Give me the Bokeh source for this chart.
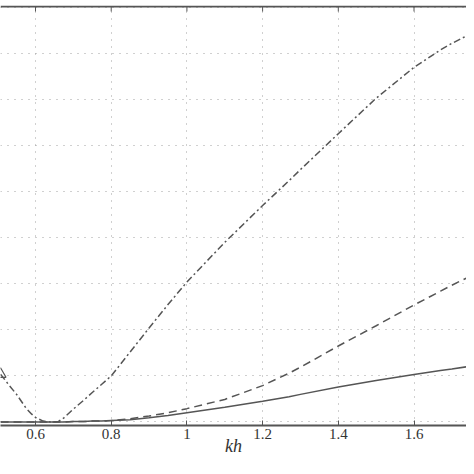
from bokeh.plotting import figure
from bokeh.models import LinearAxis, FixedTicker, Range1d, Span
from bokeh.embed import file_html
from bokeh.resources import INLINE

# data
kh = [0.5075, 0.53, 0.55, 0.575, 0.59, 0.6, 0.62, 0.64, 0.66, 0.675, 0.7, 0.727, 0.75, 0.775,
      0.8, 0.85, 0.9, 0.95, 1.0, 1.1, 1.2, 1.27, 1.3, 1.4, 1.5, 1.6, 1.67, 1.7, 1.74]
solid = [0.0, 0.0, 0.0, 0.0, 0.0, 0.0, 0.0, 0.0, 0.0, 0.0, 0.01, 0.01, 0.02, 0.02,
         0.03, 0.05, 0.09, 0.14, 0.20, 0.32, 0.45, 0.55, 0.60, 0.76, 0.90, 1.03, 1.12, 1.15, 1.20]
dashed = [0.0, 0.0, 0.0, 0.0, 0.0, 0.0, 0.0, 0.0, 0.0, 0.0, 0.01, 0.01, 0.02, 0.02,
          0.03, 0.07, 0.13, 0.20, 0.29, 0.49, 0.79, 1.06, 1.19, 1.65, 2.09, 2.54, 2.84, 2.97, 3.13]
dashdot = [1.04, 0.80, 0.60, 0.30, 0.17, 0.10, 0.02, 0.0, 0.01, 0.09, 0.28, 0.47, 0.64, 0.82,
           1.0, 1.52, 2.04, 2.55, 3.04, 3.90, 4.70, 5.24, 5.48, 6.26, 7.03, 7.70, 8.08, 8.22, 8.39]
marker_kh = [0.5075]
marker_val = [1.04]
x_ticks = [0.6, 0.8, 1.0, 1.2, 1.4, 1.6]
x_tick_labels = ["0.6", "0.8", "1", "1.2", "1.4", "1.6"]
y_ticks = [0, 1, 2, 3, 4, 5, 6, 7, 8, 9]
y_top = 9.022
x_label = "kh"

ink = "#555555"
p = figure(width=466, height=458, output_backend="svg", toolbar_location=None,
           x_range=Range1d(0.5075, 1.7387), y_range=Range1d(-0.076, 9.043),
           x_axis_location=None, y_axis_location=None,
           min_border_left=0, min_border_right=0, min_border_top=5, min_border_bottom=0)
p.outline_line_color = None
p.background_fill_color = "white"

xb = LinearAxis(ticker=FixedTicker(ticks=x_ticks),
                major_label_overrides={t: s for t, s in zip(x_ticks, x_tick_labels)})
xb.axis_line_color = ink
xb.axis_line_width = 2
xb.major_tick_in = 5
xb.major_tick_out = 0
xb.major_tick_line_color = ink
xb.minor_tick_line_color = None
xb.major_label_standoff = 3
xb.major_label_text_font = "Liberation Serif"
xb.major_label_text_font_size = "15px"
xb.major_label_text_color = "#333333"
xb.axis_label = x_label
xb.axis_label_standoff = -6
xb.axis_label_text_font = "Liberation Serif"
xb.axis_label_text_font_style = "italic"
xb.axis_label_text_font_size = "18px"
xb.axis_label_text_color = "#333333"
xb.axis_label_text_align = "left"
p.add_layout(xb, "below")

p.xgrid.ticker = FixedTicker(ticks=x_ticks)
p.ygrid.ticker = FixedTicker(ticks=y_ticks)
for g in (p.xgrid, p.ygrid):
    g.grid_line_color = "#a0a0a0"
    g.grid_line_dash = "1 6"
    g.grid_line_width = 1

# top frame line with inward ticks
p.add_layout(Span(location=y_top, dimension="width", line_color=ink, line_width=2))
p.segment(x0=x_ticks, y0=[y_top] * len(x_ticks), x1=x_ticks,
          y1=[y_top - 0.11] * len(x_ticks), line_color=ink, line_width=1)

p.line(kh, solid, line_color=ink, line_width=1.5)
p.line(kh, dashed, line_color=ink, line_width=1.5, line_dash="8 5")
p.line(kh, dashdot, line_color=ink, line_width=1.5, line_dash="7 3 2 3")
p.scatter(marker_kh, marker_val, marker="triangle", size=11, fill_color=None,
          line_color=ink, line_width=1.2)

open("out.html", "w").write(file_html(p, INLINE))
